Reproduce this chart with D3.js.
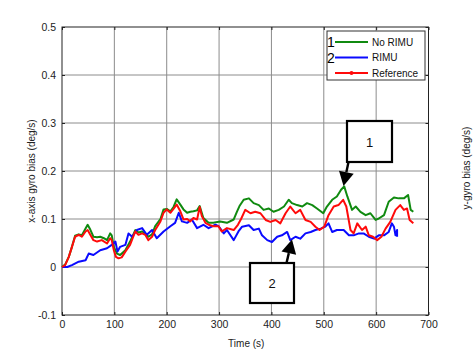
<!DOCTYPE html>
<html>
<head>
<meta charset="utf-8">
<script src="https://cdn.jsdelivr.net/npm/d3@7"></script>
<style>
  body { margin: 0; background: #fff; }
  svg { display: block; font-family: "Liberation Sans", Arial, sans-serif; }
</style>
</head>
<body>
<svg id="chart" width="474" height="354"></svg>
<script>
// ==================================
// DATA
// ==================================
const xTicks = [0, 100, 200, 300, 400, 500, 600, 700];
const yTicks = [-0.1, 0, 0.1, 0.2, 0.3, 0.4, 0.5];

// No RIMU (green)
const noRimuTime = [0, 6, 13, 19, 25, 32, 38, 45, 49, 54, 60, 67, 73, 80, 86, 92, 95, 99, 105, 111, 121, 130, 140, 146, 153, 159, 165, 172, 178, 188, 194, 200, 207, 213, 219, 226, 232, 239, 245, 251, 258, 263, 270, 280, 289, 302, 315, 328, 334, 339, 347, 357, 366, 376, 385, 395, 404, 414, 424, 433, 439, 449, 459, 468, 478, 487, 499, 506, 516, 525, 533, 539, 545, 554, 561, 570, 580, 589, 599, 605, 615, 624, 634, 643, 653, 661, 666, 671];
const noRimuBias = [0, 0.005, 0.021, 0.042, 0.065, 0.068, 0.066, 0.08, 0.088, 0.078, 0.063, 0.062, 0.063, 0.06, 0.056, 0.07, 0.066, 0.042, 0.028, 0.025, 0.035, 0.053, 0.077, 0.072, 0.074, 0.07, 0.063, 0.068, 0.085, 0.1, 0.12, 0.121, 0.116, 0.125, 0.141, 0.13, 0.12, 0.113, 0.115, 0.116, 0.118, 0.127, 0.102, 0.092, 0.092, 0.095, 0.092, 0.099, 0.115, 0.127, 0.14, 0.143, 0.133, 0.129, 0.119, 0.122, 0.115, 0.119, 0.126, 0.14, 0.133, 0.129, 0.126, 0.133, 0.129, 0.122, 0.112, 0.126, 0.14, 0.147, 0.161, 0.168, 0.147, 0.119, 0.126, 0.115, 0.108, 0.112, 0.098, 0.101, 0.108, 0.136, 0.145, 0.143, 0.143, 0.15, 0.119, 0.115];

// RIMU (blue)
const rimuTime = [0, 10, 19, 32, 45, 51, 60, 73, 86, 95, 102, 106, 111, 121, 127, 134, 143, 153, 162, 172, 181, 194, 207, 216, 223, 229, 239, 248, 258, 270, 280, 293, 299, 309, 315, 328, 337, 344, 357, 366, 376, 382, 392, 401, 411, 420, 430, 436, 446, 455, 465, 475, 484, 494, 503, 509, 516, 525, 538, 548, 557, 567, 576, 586, 596, 605, 615, 624, 630, 634, 637, 640, 640];
const rimuBias = [0, 0, 0.004, 0.011, 0.014, 0.028, 0.025, 0.035, 0.039, 0.046, 0.053, 0.032, 0.042, 0.046, 0.07, 0.063, 0.077, 0.081, 0.067, 0.077, 0.06, 0.074, 0.085, 0.092, 0.113, 0.095, 0.092, 0.099, 0.081, 0.088, 0.081, 0.088, 0.085, 0.07, 0.077, 0.056, 0.074, 0.084, 0.087, 0.077, 0.08, 0.066, 0.056, 0.052, 0.063, 0.066, 0.073, 0.056, 0.063, 0.059, 0.07, 0.073, 0.077, 0.08, 0.084, 0.091, 0.073, 0.077, 0.077, 0.066, 0.066, 0.07, 0.07, 0.063, 0.059, 0.066, 0.066, 0.073, 0.091, 0.084, 0.066, 0.077, 0.063];

// Reference (red)
const refTime = [0, 6, 13, 19, 25, 32, 38, 45, 49, 54, 60, 67, 76, 86, 92, 95, 99, 103, 108, 114, 121, 130, 140, 146, 153, 159, 165, 172, 178, 188, 194, 200, 207, 213, 219, 226, 232, 239, 245, 251, 258, 263, 267, 274, 280, 289, 299, 305, 315, 328, 336, 342, 350, 360, 369, 379, 389, 398, 408, 417, 427, 436, 446, 455, 465, 475, 484, 492, 501, 509, 519, 528, 537, 543, 551, 557, 564, 573, 580, 586, 594, 602, 610, 618, 627, 637, 646, 653, 659, 664, 671];
const refBias = [0, 0.004, 0.021, 0.042, 0.063, 0.067, 0.063, 0.074, 0.077, 0.067, 0.056, 0.053, 0.056, 0.049, 0.06, 0.056, 0.035, 0.021, 0.018, 0.02, 0.032, 0.046, 0.074, 0.067, 0.07, 0.067, 0.056, 0.063, 0.077, 0.095, 0.113, 0.12, 0.113, 0.121, 0.13, 0.116, 0.099, 0.1, 0.095, 0.102, 0.099, 0.125, 0.106, 0.092, 0.088, 0.085, 0.085, 0.074, 0.081, 0.077, 0.088, 0.1, 0.119, 0.112, 0.115, 0.112, 0.098, 0.094, 0.098, 0.091, 0.112, 0.126, 0.112, 0.119, 0.098, 0.094, 0.084, 0.077, 0.084, 0.108, 0.126, 0.129, 0.14, 0.126, 0.077, 0.07, 0.091, 0.077, 0.084, 0.066, 0.063, 0.056, 0.063, 0.08, 0.094, 0.119, 0.129, 0.119, 0.122, 0.098, 0.091];

// ==================================
// LAYOUT
// ==================================
const W = 474, H = 354;
const margin = { left: 62, right: 45.5, top: 27, bottom: 39 };
const x0 = margin.left, x1 = W - margin.right;
const y0 = H - margin.bottom, y1 = margin.top;

const svg = d3.select("#chart");

const x = d3.scaleLinear().domain([0, 700]).range([x0, x1]);
const y = d3.scaleLinear().domain([-0.1, 0.5]).range([y0, y1]);

// grid
const grid = svg.append("g").attr("stroke", "#8c8c8c").attr("stroke-width", 1);
xTicks.slice(1, -1).forEach(t => {
  grid.append("line").attr("x1", x(t)).attr("x2", x(t)).attr("y1", y0).attr("y2", y1);
});
yTicks.slice(1, -1).forEach(t => {
  grid.append("line").attr("x1", x0).attr("x2", x1).attr("y1", y(t)).attr("y2", y(t));
});

// axes (MATLAB box style, inward ticks)
const fmt = d => d === 0 ? "0" : d3.format(".1f")(d).replace("−", "-");
const tickLen = 3;
svg.append("g").attr("transform", `translate(0,${y0})`)
  .call(d3.axisBottom(x).tickValues(xTicks).tickSizeInner(-tickLen).tickSizeOuter(0).tickPadding(6))
  .call(g => g.select(".domain").remove());
svg.append("g").attr("transform", `translate(0,${y1})`)
  .call(d3.axisTop(x).tickValues(xTicks).tickSizeInner(-tickLen).tickSizeOuter(0).tickFormat(""))
  .call(g => g.select(".domain").remove());
svg.append("g").attr("transform", `translate(${x0},0)`)
  .call(d3.axisLeft(y).tickValues(yTicks).tickSizeInner(-tickLen).tickSizeOuter(0).tickPadding(6).tickFormat(fmt))
  .call(g => g.select(".domain").remove());
svg.append("g").attr("transform", `translate(${x1},0)`)
  .call(d3.axisRight(y).tickValues(yTicks).tickSizeInner(-tickLen).tickSizeOuter(0).tickFormat(""))
  .call(g => g.select(".domain").remove());

svg.selectAll(".tick text").attr("font-size", 10.5).attr("fill", "#222")
  .attr("font-family", "Liberation Sans, Arial, sans-serif");
svg.selectAll(".tick line").attr("stroke", "#222");

svg.append("rect").attr("x", x0).attr("y", y1).attr("width", x1 - x0).attr("height", y0 - y1)
  .attr("fill", "none").attr("stroke", "#222").attr("stroke-width", 1);

// ==================================
// LINES
// ==================================
const series = [
  { name: "No RIMU", t: noRimuTime, v: noRimuBias, color: "#108a10" },
  { name: "RIMU", t: rimuTime, v: rimuBias, color: "#0a0aff" },
  { name: "Reference", t: refTime, v: refBias, color: "#ff0a0a" }
];

const line = d3.line().x(d => x(d[0])).y(d => y(d[1]));
const plot = svg.append("g");
series.forEach(s => {
  const pts = s.t.map((t, i) => [t, s.v[i]]);
  plot.append("path").datum(pts).attr("d", line)
    .attr("fill", "none").attr("stroke", s.color).attr("stroke-width", 2)
    .attr("stroke-linejoin", "round");
});

// ==================================
// LABELS
// ==================================
svg.append("text").attr("x", (x0 + x1) / 2 + 1).attr("y", 347)
  .attr("text-anchor", "middle").attr("font-size", 10).attr("fill", "#222").text("Time (s)");
svg.append("text").attr("transform", `translate(35,${(y0 + y1) / 2}) rotate(-90)`)
  .attr("text-anchor", "middle").attr("font-size", 10).attr("fill", "#222").text("x-axis gyro bias (deg/s)");
svg.append("text").attr("transform", `translate(470,168) rotate(-90)`)
  .attr("text-anchor", "middle").attr("font-size", 10).attr("fill", "#222").text("y-gyro bias (deg/s)");

// ==================================
// LEGEND
// ==================================
const lg = svg.append("g");
lg.append("rect").attr("x", 327).attr("y", 31).attr("width", 98).attr("height", 49)
  .attr("fill", "#fff").attr("stroke", "#333").attr("stroke-width", 1);
series.forEach((s, i) => {
  const ly = 42 + i * 15.5;
  lg.append("line").attr("x1", 335).attr("x2", 368).attr("y1", ly).attr("y2", ly)
    .attr("stroke", s.color).attr("stroke-width", 2);
  if (s.name === "Reference") {
    lg.append("circle").attr("cx", 351.5).attr("cy", ly).attr("r", 2).attr("fill", s.color);
  }
  lg.append("text").attr("x", 372).attr("y", ly + 3.5).attr("font-size", 10).attr("fill", "#111").text(s.name);
});
["1", "2"].forEach((lab, i) => {
  lg.append("text").attr("x", 327).attr("y", 47 + i * 15.5).attr("font-size", 14).attr("fill", "#000").text(lab);
});

// ==================================
// ANNOTATIONS
// ==================================
const notes = [
  { label: "1", bx: 347, by: 121, bw: 45, bh: 41, from: [348.5, 162], to: [343.5, 186] },
  { label: "2", bx: 250, by: 263, bw: 44, bh: 40, from: [286.5, 263], to: [292, 239.5] }
];
const headLen = 14, headHalf = 7.5;
notes.forEach(n => {
  svg.append("rect").attr("x", n.bx).attr("y", n.by).attr("width", n.bw).attr("height", n.bh)
    .attr("fill", "#fff").attr("stroke", "#000").attr("stroke-width", 2.2);
  svg.append("text").attr("x", n.bx + n.bw / 2).attr("y", n.by + n.bh / 2 + 5)
    .attr("text-anchor", "middle").attr("font-size", 13).attr("fill", "#111").text(n.label);
  const dx = n.to[0] - n.from[0], dy = n.to[1] - n.from[1];
  const len = Math.hypot(dx, dy), ux = dx / len, uy = dy / len;
  const bx = n.to[0] - ux * headLen, by = n.to[1] - uy * headLen;
  svg.append("line").attr("x1", n.from[0]).attr("y1", n.from[1]).attr("x2", bx).attr("y2", by)
    .attr("stroke", "#000").attr("stroke-width", 2.4);
  svg.append("path")
    .attr("d", `M${n.to[0]},${n.to[1]} L${bx - uy * headHalf},${by + ux * headHalf} L${bx + uy * headHalf},${by - ux * headHalf} Z`)
    .attr("fill", "#000");
});
</script>
</body>
</html>
